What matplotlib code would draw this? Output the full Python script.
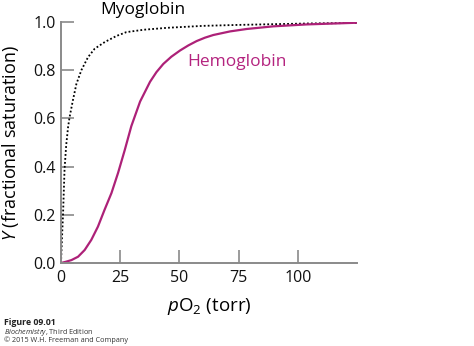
import matplotlib
matplotlib.use("Agg")
import matplotlib.pyplot as plt

# values
myo_po2 = [0, 0.4, 0.85, 1.5, 2.2, 3.0, 3.6, 5.0, 6.5, 8.6, 11.4, 14.2, 18.5,
           23.4, 27.6, 35, 45, 60, 75, 90, 105, 125]
myo_sat = [0, 0.1, 0.2, 0.39, 0.49, 0.565, 0.604, 0.674, 0.743, 0.80, 0.854,
           0.889, 0.917, 0.942, 0.958, 0.968, 0.976, 0.984, 0.988, 0.991,
           0.994, 0.996]

hb_po2 = [0, 2, 4.4, 7.2, 10, 12.8, 15.6, 18.4, 21.3, 24.1, 26.9, 29.7, 33.4,
          37.6, 40.3, 43.2, 46.6, 50.3, 53.8, 57.3, 60.8, 64.3, 71.4, 78.4,
          89.6, 103.7, 125]
hb_sat = [0, 0.005, 0.012, 0.026, 0.054, 0.096, 0.151, 0.221, 0.29, 0.374,
          0.468, 0.568, 0.67, 0.752, 0.792, 0.826, 0.856, 0.882, 0.903, 0.921,
          0.935, 0.946, 0.961, 0.971, 0.982, 0.99, 0.997]

x_ticks = [25, 50, 75, 100]
x_tick_labels = ["0", "25", "50", "75", "100"]
y_ticks = [0.0, 0.2, 0.4, 0.6, 0.8, 1.0]

plt.rcParams['font.family'] = ['Open Sans', 'DejaVu Sans']
plt.rcParams['mathtext.fontset'] = 'custom'
plt.rcParams['mathtext.rm'] = 'Open Sans'
plt.rcParams['mathtext.it'] = 'Open Sans:italic'

magenta = '#ad2178'
grey = '#8a8a8a'

fig = plt.figure(figsize=(4.74, 3.46), dpi=100)
ax = fig.add_axes([0.1287, 0.2399, 0.6245, 0.6965])

ax.plot(myo_po2, myo_sat, color='black', linestyle=(0, (1, 1.2)), linewidth=1.3)
ax.plot(hb_po2, hb_sat, color=magenta, linewidth=1.6, solid_joinstyle='round')

ax.set_xlim(0, 125)
ax.set_ylim(0, 1.0)

for side in ['top', 'right']:
    ax.spines[side].set_visible(False)
for side in ['left', 'bottom']:
    ax.spines[side].set_color(grey)
    ax.spines[side].set_linewidth(1.4)

ax.set_xticks([0] + x_ticks)
ax.set_xticklabels(x_tick_labels)
ax.set_yticks(y_ticks)
ax.set_yticklabels(["%.1f" % v for v in y_ticks])
ax.tick_params(axis='both', direction='in', length=9.5, width=1.2, color=grey,
               labelsize=11.5, labelcolor='#111111')
ax.tick_params(axis='x', pad=5)
ax.tick_params(axis='y', pad=4)

ax.set_xlabel("$p$O$_2$ (torr)", fontsize=13.5, labelpad=7)
ax.set_ylabel("$Y$ (fractional saturation)", fontsize=13, labelpad=9)

ax.text(34.5, 1.015, "Myoglobin", fontsize=12.5, color='black',
        ha='center', va='bottom', clip_on=False)
ax.text(74.5, 0.835, "Hemoglobin", fontsize=12.5, color='#b4237f',
        ha='center', va='center')

fig.text(0.008, 0.062, "Figure 09.01", fontsize=6.3, fontweight='bold', color='#222222')
fig.text(0.008, 0.036, "$Biochemistry$, Third Edition", fontsize=5.2, color='#333333')
fig.text(0.008, 0.011, "\u00a9 2015 W.H. Freeman and Company", fontsize=5.2, color='#333333')

fig.savefig("out.png", dpi=100)
